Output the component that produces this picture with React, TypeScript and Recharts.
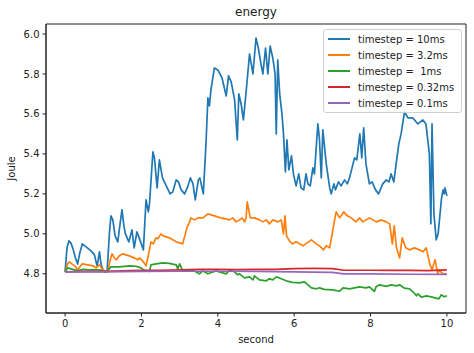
import { LineChart, Line, XAxis, YAxis, ReferenceArea } from "recharts";

// time (s) / energy (J)
const blueT = [0, 0.05, 0.1, 0.15, 0.2, 0.27, 0.33, 0.38, 0.45, 0.55, 0.68, 0.77, 0.81, 0.84, 0.9, 0.94, 0.99, 1.02, 1.1, 1.16, 1.2, 1.25, 1.31, 1.38, 1.44, 1.49, 1.54, 1.58, 1.67, 1.75, 1.81, 1.88, 1.94, 2.05, 2.12, 2.18, 2.21, 2.3, 2.34, 2.41, 2.47, 2.55, 2.65, 2.75, 2.82, 2.91, 2.97, 3.04, 3.13, 3.22, 3.28, 3.35, 3.41, 3.49, 3.53, 3.62, 3.69, 3.74, 3.78, 3.82, 3.91, 4.0, 4.11, 4.22, 4.28, 4.35, 4.44, 4.51, 4.55, 4.61, 4.67, 4.76, 4.83, 4.92, 5.0, 5.06, 5.13, 5.18, 5.25, 5.31, 5.37, 5.44, 5.5, 5.53, 5.57, 5.62, 5.68, 5.72, 5.77, 5.81, 5.86, 5.93, 5.98, 6.05, 6.12, 6.18, 6.25, 6.31, 6.36, 6.42, 6.49, 6.53, 6.62, 6.66, 6.71, 6.75, 6.84, 6.93, 6.97, 7.04, 7.08, 7.16, 7.23, 7.32, 7.39, 7.45, 7.58, 7.64, 7.72, 7.77, 7.82, 7.88, 7.97, 8.04, 8.13, 8.21, 8.32, 8.41, 8.48, 8.54, 8.61, 8.67, 8.74, 8.8, 8.89, 8.98, 9.11, 9.24, 9.37, 9.45, 9.54, 9.58, 9.61, 9.66, 9.72, 9.77, 9.86, 9.9, 9.93, 9.95, 10.0];
const blueE = [4.81, 4.93, 4.965, 4.955, 4.93, 4.88, 4.85, 4.9, 4.95, 4.935, 4.915, 4.895, 4.86, 4.84, 4.91, 4.85, 4.82, 4.81, 4.81, 5.0, 5.09, 5.07, 4.99, 4.96, 5.05, 5.12, 5.04, 5.0, 4.96, 5.02, 4.93, 5.01, 4.98, 4.92, 5.17, 5.11, 5.15, 5.41, 5.38, 5.23, 5.37, 5.28, 5.24, 5.2, 5.21, 5.27, 5.26, 5.22, 5.2, 5.24, 5.28, 5.25, 5.17, 5.27, 5.28, 5.2, 5.45, 5.68, 5.64, 5.72, 5.83, 5.82, 5.78, 5.69, 5.79, 5.76, 5.67, 5.47, 5.7, 5.65, 5.57, 5.75, 5.9, 5.8, 5.98, 5.93, 5.85, 5.8, 5.93, 5.8, 5.94, 5.88, 5.8, 5.5, 5.87, 5.7, 5.6, 5.5, 5.31, 5.47, 5.32, 5.39, 5.3, 5.24, 5.3, 5.23, 5.22, 5.3, 5.25, 5.24, 5.33, 5.3, 5.55, 5.48, 5.28, 5.52, 5.35, 5.23, 5.2, 5.25, 5.22, 5.26, 5.24, 5.27, 5.25, 5.28, 5.38, 5.37, 5.5, 5.38, 5.53, 5.35, 5.25, 5.26, 5.22, 5.2, 5.25, 5.27, 5.26, 5.3, 5.26, 5.35, 5.45, 5.5, 5.61, 5.58, 5.58, 5.55, 5.57, 5.55, 5.4, 5.05, 5.55, 5.1, 4.97, 5.0, 5.18, 5.22, 5.2, 5.23, 5.19];

const orangeT = [0, 0.07, 0.11, 0.25, 0.33, 0.45, 0.59, 0.73, 0.81, 0.9, 0.99, 1.07, 1.13, 1.17, 1.23, 1.29, 1.35, 1.42, 1.51, 1.68, 1.81, 1.9, 1.95, 2.05, 2.12, 2.21, 2.25, 2.31, 2.38, 2.43, 2.51, 2.57, 2.73, 2.91, 3.08, 3.19, 3.24, 3.3, 3.39, 3.48, 3.61, 3.74, 3.91, 4.08, 4.31, 4.39, 4.48, 4.57, 4.64, 4.7, 4.74, 4.77, 4.85, 4.96, 5.09, 5.18, 5.27, 5.35, 5.44, 5.57, 5.66, 5.72, 5.76, 5.8, 5.89, 5.96, 6.05, 6.23, 6.45, 6.58, 6.66, 6.77, 6.84, 6.93, 7.04, 7.1, 7.19, 7.26, 7.3, 7.39, 7.49, 7.62, 7.71, 7.8, 7.97, 8.06, 8.15, 8.28, 8.41, 8.5, 8.57, 8.62, 8.68, 8.76, 8.83, 8.92, 9.02, 9.15, 9.28, 9.37, 9.46, 9.55, 9.61, 9.69, 9.76, 9.8, 9.89, 10.0];
const orangeE = [4.81, 4.85, 4.86, 4.84, 4.82, 4.85, 4.845, 4.84, 4.83, 4.845, 4.82, 4.81, 4.82, 4.86, 4.9, 4.88, 4.87, 4.89, 4.9, 4.89, 4.88, 4.87, 4.88, 4.86, 4.84, 4.92, 4.96, 4.95, 4.98, 4.975, 5.0, 4.99, 4.98, 4.96, 4.95, 5.03, 5.05, 5.08, 5.07, 5.08, 5.08, 5.1, 5.09, 5.08, 5.07, 5.08, 5.06, 5.07, 5.08, 5.06, 5.08, 5.16, 5.08, 5.08, 5.07, 5.06, 5.07, 5.05, 5.07, 5.06, 5.07, 5.0, 5.09, 4.99, 4.96, 4.95, 4.96, 4.94, 4.97, 4.95, 4.94, 4.92, 4.94, 4.93, 5.05, 5.11, 5.08, 5.1, 5.11, 5.09, 5.08, 5.06, 5.08, 5.06, 5.08, 5.07, 5.06, 5.07, 5.06, 5.05, 4.95, 5.04, 4.93, 4.88, 4.98, 4.93, 4.92, 4.93, 4.92, 4.91, 4.93, 4.85, 4.82, 4.87, 4.8, 4.82, 4.8, 4.8];

const greenT = [0, 0.07, 0.16, 0.33, 0.46, 0.64, 0.9, 0.99, 1.09, 1.2, 1.42, 1.69, 1.86, 1.99, 2.05, 2.12, 2.21, 2.25, 2.38, 2.56, 2.73, 2.91, 2.95, 3.0, 3.07, 3.2, 3.35, 3.52, 3.6, 3.74, 3.95, 4.22, 4.31, 4.44, 4.52, 4.57, 4.7, 4.83, 4.92, 4.96, 5.09, 5.27, 5.35, 5.44, 5.53, 5.66, 5.79, 5.96, 6.14, 6.27, 6.36, 6.45, 6.58, 6.66, 6.79, 7.01, 7.19, 7.28, 7.45, 7.58, 7.71, 7.88, 7.97, 8.1, 8.15, 8.24, 8.41, 8.54, 8.68, 8.76, 8.89, 9.02, 9.11, 9.2, 9.24, 9.33, 9.46, 9.59, 9.79, 9.85, 9.93, 10.0];
const greenE = [4.81, 4.83, 4.825, 4.815, 4.822, 4.82, 4.82, 4.815, 4.81, 4.835, 4.835, 4.84, 4.838, 4.83, 4.82, 4.815, 4.812, 4.845, 4.85, 4.855, 4.852, 4.845, 4.825, 4.85, 4.82, 4.815, 4.818, 4.8, 4.815, 4.8, 4.815, 4.8, 4.82, 4.81, 4.795, 4.8, 4.78, 4.785, 4.77, 4.79, 4.77, 4.765, 4.775, 4.77, 4.785, 4.775, 4.765, 4.757, 4.755, 4.76, 4.745, 4.73, 4.725, 4.73, 4.722, 4.72, 4.713, 4.73, 4.725, 4.73, 4.735, 4.73, 4.735, 4.712, 4.737, 4.745, 4.737, 4.745, 4.74, 4.745, 4.728, 4.725, 4.71, 4.69, 4.7, 4.683, 4.69, 4.685, 4.675, 4.695, 4.685, 4.69];

const redT = [0, 0.5, 1, 1.5, 2, 2.5, 3, 3.5, 4, 4.5, 5, 5.5, 6, 6.5, 7, 7.3, 8, 8.5, 9, 9.5, 10];
const redE = [4.81, 4.812, 4.812, 4.815, 4.817, 4.818, 4.82, 4.822, 4.822, 4.821, 4.822, 4.822, 4.826, 4.827, 4.826, 4.818, 4.818, 4.817, 4.817, 4.816, 4.82];

const purpleT = [0, 1, 2, 3, 4, 5, 6, 7, 7.3, 8, 9, 10];
const purpleE = [4.81, 4.81, 4.812, 4.813, 4.813, 4.812, 4.81, 4.807, 4.8, 4.8, 4.798, 4.797];

const xTicks = [0, 2, 4, 6, 8, 10];
const yTicks = [4.8, 5.0, 5.2, 5.4, 5.6, 5.8, 6.0];

const toPoints = (t: number[], e: number[]) => t.map((x, i) => ({ t: x, e: e[i] }));

const series = [
  { name: "timestep = 10ms", color: "#1f77b4", data: toPoints(blueT, blueE) },
  { name: "timestep = 3.2ms", color: "#ff7f0e", data: toPoints(orangeT, orangeE) },
  { name: "timestep =  1ms", color: "#2ca02c", data: toPoints(greenT, greenE) },
  { name: "timestep = 0.32ms", color: "#d62728", data: toPoints(redT, redE) },
  { name: "timestep = 0.1ms", color: "#9467bd", data: toPoints(purpleT, purpleE) },
];

const FONT = "'DejaVu Sans', sans-serif";
const INK = "#222";
const X_DOMAIN: [number, number] = [-0.5, 10.5];
const Y_DOMAIN: [number, number] = [4.604, 6.05];

function Legendbox() {
  return (
    <div
      style={{
        position: "absolute",
        left: 323,
        top: 29,
        width: 137,
        padding: "1px 0",
        border: "1px solid #d0d0d0",
        borderRadius: 3,
        background: "rgba(255,255,255,0.8)",
        fontFamily: FONT,
        fontSize: 10,
        color: INK,
      }}
    >
      {series.map((s) => (
        <div key={s.name} style={{ display: "flex", alignItems: "center", height: 16 }}>
          <span style={{ width: 22, height: 2, background: s.color, marginLeft: 4, marginRight: 8 }} />
          <span style={{ whiteSpace: "pre" }}>{s.name}</span>
        </div>
      ))}
    </div>
  );
}

export default function App() {
  const tickStyle = { fill: INK, fontSize: 10, fontFamily: FONT };
  return (
    <div style={{ position: "absolute", left: 0, top: 0, width: 474, height: 353, background: "#fff", fontFamily: FONT }}>
      <div style={{ position: "absolute", left: 46, width: 420, top: 5, textAlign: "center", fontSize: 12, color: INK }}>
        energy
      </div>
      <LineChart width={474} height={353} margin={{ top: 24, right: 8, bottom: 0, left: 0 }}>
        <XAxis
          type="number"
          dataKey="t"
          domain={X_DOMAIN}
          ticks={xTicks}
          allowDataOverflow
          height={40}
          tick={tickStyle}
          tickSize={3.5}
          tickMargin={3}
          tickLine={{ stroke: INK }}
          axisLine={{ stroke: INK }}
          label={{ value: "second", position: "center", dy: 6, fill: INK, fontSize: 10, fontFamily: FONT }}
        />
        <YAxis
          type="number"
          domain={Y_DOMAIN}
          ticks={yTicks}
          allowDataOverflow
          width={46}
          tick={tickStyle}
          tickFormatter={(v: number) => v.toFixed(1)}
          tickSize={3.5}
          tickMargin={3}
          tickLine={{ stroke: INK }}
          axisLine={{ stroke: INK }}
          label={{ value: "Joule", angle: -90, position: "center", dx: -12, fill: INK, fontSize: 10, fontFamily: FONT }}
        />
        {series.map((s) => (
          <Line
            key={s.name}
            data={s.data}
            dataKey="e"
            type="linear"
            stroke={s.color}
            strokeWidth={1.7}
            strokeLinejoin="round"
            dot={false}
            isAnimationActive={false}
          />
        ))}
        <ReferenceArea
          x1={X_DOMAIN[0]}
          x2={X_DOMAIN[1]}
          y1={Y_DOMAIN[0]}
          y2={Y_DOMAIN[1]}
          fill="none"
          stroke={INK}
          strokeWidth={1}
        />
      </LineChart>
      <Legendbox />
    </div>
  );
}
